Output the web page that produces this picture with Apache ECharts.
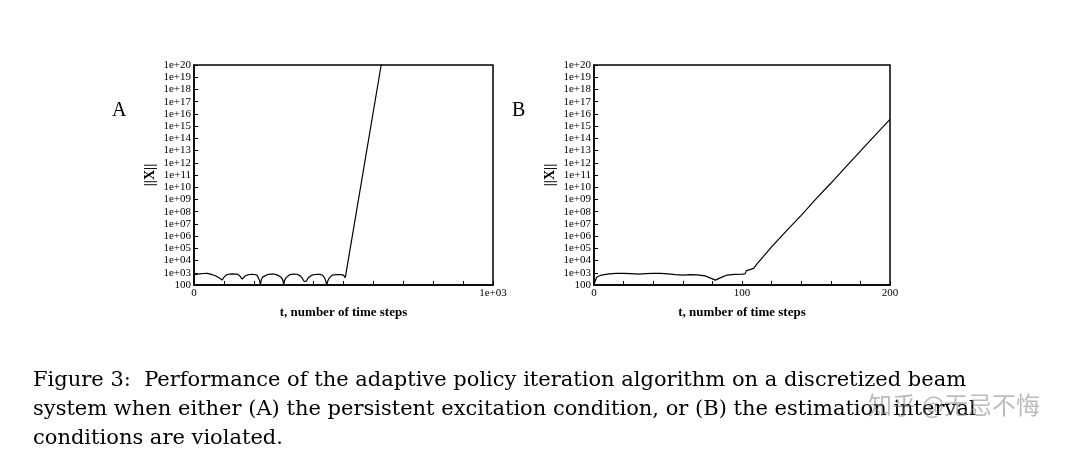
<!DOCTYPE html>
<html>
<head>
<meta charset="utf-8">
<script src="https://cdn.jsdelivr.net/npm/echarts@6/dist/echarts.min.js"></script>
<style>
html,body{margin:0;padding:0;background:#fff;}
#main{width:1069px;height:458px;}
</style>
</head>
<body>
<div id="main"></div>
<script>
// panel A: persistent excitation violated
var tA = [0, 10, 20, 32, 44, 52, 60, 70, 78, 86, 94, 102, 111, 120, 128, 136, 144, 153, 161, 170, 178, 186, 195, 203, 211, 216, 219, 222, 225, 229, 235, 245, 256, 266, 275, 284, 292, 297, 300, 303, 308, 314, 320, 333, 345, 355, 362, 368, 372, 376, 383, 395, 411, 422, 430, 436, 441, 444, 447, 452, 462, 478, 490, 500, 506, 626, 660];
var xA = [660, 760, 820, 870, 900, 820, 700, 600, 480, 360, 250, 500, 720, 790, 800, 790, 780, 560, 300, 520, 650, 720, 760, 720, 640, 460, 250, 100, 260, 440, 580, 700, 780, 790, 700, 560, 420, 250, 100, 240, 400, 560, 700, 780, 760, 560, 360, 200, 140, 210, 420, 650, 760, 740, 620, 420, 200, 100, 200, 360, 640, 720, 700, 640, 400, 1e20, 1e25];

// panel B: estimation interval conditions violated
var tB = [0, 1, 2, 5, 10, 15, 20, 25, 30, 35, 40, 45, 50, 55, 60, 65, 70, 75, 78, 82, 86, 90, 95, 100, 102, 103, 106, 108, 110, 120, 130, 140, 150, 160, 170, 180, 190, 200];
var xB = [100, 250, 450, 650, 800, 880, 900, 850, 780, 840, 900, 880, 820, 700, 640, 700, 680, 560, 400, 250, 420, 650, 740, 780, 800, 1500, 1900, 2400, 5000, 1.3e5, 2.7e6, 5e7, 1.1e9, 2.1e10, 4.4e11, 9e12, 1.8e14, 3.5e15];

var yTicks = function (v) {
    if (v <= 100.5) return '100';
    var e = Math.round(Math.log10(v));
    return '1e+' + (e < 10 ? '0' + e : e);
};

var serif = '"Liberation Serif", "DejaVu Serif", serif';
var tickLbl = {fontFamily: serif, fontSize: 11, color: '#000', formatter: yTicks, margin: 3};

function yAxisFor(i) {
    return {
        type: 'log', logBase: 10, gridIndex: i, min: 100, max: 1e20, interval: 1,
        splitLine: {show: false},
        axisLine: {lineStyle: {color: '#000', width: 1.5}},
        axisTick: {inside: true, length: 4, lineStyle: {color: '#000'}},
        axisLabel: tickLbl,
        name: '||X||', nameLocation: 'middle', nameGap: 37,
        nameTextStyle: {fontFamily: serif, fontWeight: 'bold', fontSize: 14, color: '#000'}
    };
}

var myChart = echarts.init(document.getElementById('main'));

var option = {
    backgroundColor: '#fff',
    animation: false,
    grid: [
        {left: 194, top: 65, width: 299, height: 220, show: true, borderColor: '#000', borderWidth: 1.5},
        {left: 594, top: 65, width: 296, height: 220, show: true, borderColor: '#000', borderWidth: 1.5}
    ],
    xAxis: [
        {
            type: 'value', gridIndex: 0, min: 0, max: 1000, interval: 100,
            splitLine: {show: false},
            axisLine: {lineStyle: {color: '#000', width: 1.5}},
            axisTick: {inside: true, length: 4, lineStyle: {color: '#000'}},
            axisLabel: {fontFamily: serif, fontSize: 11, color: '#000', margin: 3,
                formatter: function (v) { return v === 0 ? '0' : (v === 1000 ? '1e+03' : ''); }},
            name: 't, number of time steps', nameLocation: 'middle', nameGap: 21,
            nameTextStyle: {fontFamily: serif, fontWeight: 'bold', fontSize: 13, color: '#000'}
        },
        {
            type: 'value', gridIndex: 1, min: 0, max: 200, interval: 20,
            splitLine: {show: false},
            axisLine: {lineStyle: {color: '#000', width: 1.5}},
            axisTick: {inside: true, length: 4, lineStyle: {color: '#000'}},
            axisLabel: {fontFamily: serif, fontSize: 11, color: '#000', margin: 3,
                formatter: function (v) { return v % 100 === 0 ? String(v) : ''; }},
            name: 't, number of time steps', nameLocation: 'middle', nameGap: 21,
            nameTextStyle: {fontFamily: serif, fontWeight: 'bold', fontSize: 13, color: '#000'}
        }
    ],
    yAxis: [yAxisFor(0), yAxisFor(1)],
    series: [
        {
            type: 'line', xAxisIndex: 0, yAxisIndex: 0, showSymbol: false, clip: true,
            lineStyle: {color: '#000', width: 1.2},
            data: tA.map(function (t, i) { return [t, xA[i]]; })
        },
        {
            type: 'line', xAxisIndex: 1, yAxisIndex: 1, showSymbol: false, clip: true,
            lineStyle: {color: '#000', width: 1.2},
            data: tB.map(function (t, i) { return [t, xB[i]]; })
        }
    ],
    graphic: [
        {type: 'text', left: 112, top: 101, style: {text: 'A', font: '20px ' + serif, fill: '#000'}},
        {type: 'text', left: 512, top: 101, style: {text: 'B', font: '20px ' + serif, fill: '#000'}},
        {type: 'text', left: 33, top: 366, style: {
            text: 'Figure 3:  Performance of the adaptive policy iteration algorithm on a discretized beam\nsystem when either (A) the persistent excitation condition, or (B) the estimation interval\nconditions are violated.',
            font: '21px "DejaVu Serif"', lineHeight: 29, fill: '#000'}},
        {type: 'text', left: 868, top: 393, style: {text: '知乎 @无忌不悔', font: '24px "Noto Sans CJK SC"', fill: 'rgba(120,120,120,0.5)'}}
    ]
};

myChart.setOption(option);
</script>
</body>
</html>
